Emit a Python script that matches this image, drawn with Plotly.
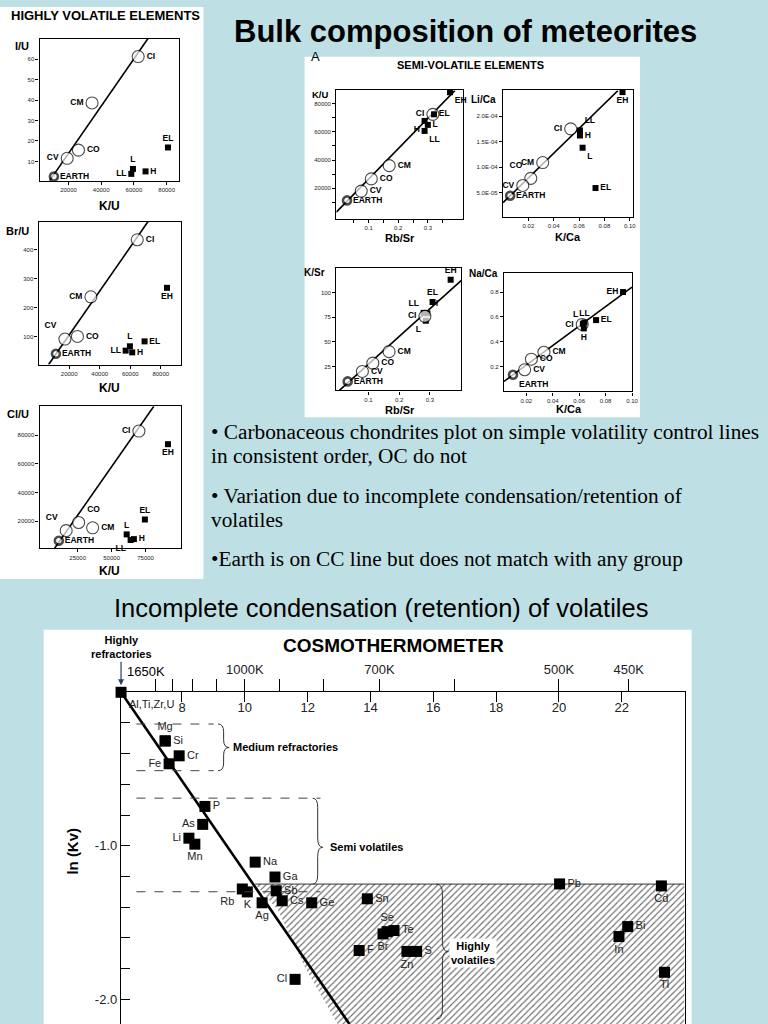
import plotly.graph_objects as go

# ---------------- data ----------------
# I/U vs K/U  (highly volatile elements)
iu_cc = ["CI", "CM", "CO", "CV", "EARTH"]
iu_cc_ku = [62600, 34400, 26100, 19200, 11100]
iu_cc_iu = [61.3, 38.6, 15.5, 11.5, 2.6]
iu_oc = ["L", "LL", "H", "EL"]
iu_oc_ku = [59400, 58400, 67100, 80800]
iu_oc_iu = [6.3, 3.9, 5.1, 16.8]
iu_line_ku = [8500, 68500]
iu_line_iu = [0.6, 70]

# Br/U vs K/U
bru_cc = ["CI", "CM", "CV", "CO", "EARTH"]
bru_cc_ku = [64600, 34200, 17200, 25400, 11300]
bru_cc_bru = [434, 237, 91, 100, 40]
bru_oc = ["EH", "L", "LL", "H", "EL"]
bru_oc_ku = [84100, 59800, 57000, 61300, 69400]
bru_oc_bru = [268, 66, 51, 45, 83]
bru_line_ku = [6500, 71700]
bru_line_bru = [3, 497]

# Cl/U vs K/U
clu_cc = ["CI", "CO", "CV", "CM", "EARTH"]
clu_cc_ku = [70100, 25700, 16500, 36000, 11100]
clu_cc_clu = [83000, 19100, 13400, 15400, 6400]
clu_oc = ["EH", "EL", "L", "LL", "H"]
clu_oc_ku = [91500, 74500, 61100, 64000, 66400]
clu_oc_clu = [73800, 21200, 10800, 6900, 7500]
clu_line_ku = [8000, 81100]
clu_line_clu = [1100, 100300]

# K/U vs Rb/Sr  (semi-volatile elements)
ku_cc = ["CI", "CM", "CO", "CV", "EARTH"]
ku_cc_rbsr = [0.317, 0.1695, 0.109, 0.075, 0.027]
ku_cc_ku = [72500, 36000, 26600, 17900, 11300]
ku_oc = ["EH", "EL", "H", "L", "LL"]
ku_oc_rbsr = [0.375, 0.321, 0.289, 0.300, 0.289]
ku_oc_ku = [88200, 72500, 67800, 65000, 60700]
ku_line_rbsr = [-0.009, 0.392]
ku_line_ku = [3000, 89500]

# Li/Ca vs K/Ca
lica_cc = ["CI", "CM", "CO", "CV", "EARTH"]
lica_cc_kca = [0.0534, 0.0313, 0.0219, 0.0156, 0.0056]
lica_cc_lica = [1.75e-4, 1.09e-4, 7.8e-5, 6.4e-5, 4.4e-5]
lica_oc = ["EH", "LL", "H", "L", "EL"]
lica_oc_kca = [0.0943, 0.0607, 0.0607, 0.0628, 0.073]
lica_oc_lica = [2.47e-4, 1.72e-4, 1.62e-4, 1.38e-4, 5.9e-5]
lica_line_kca = [0.0, 0.0908]
lica_line_lica = [3.04e-5, 2.503e-4]

# K/Sr vs Rb/Sr
ksr_cc = ["CI", "CM", "CO", "CV", "EARTH"]
ksr_cc_rbsr = [0.284, 0.167, 0.114, 0.080, 0.032]
ksr_cc_ksr = [76, 40.1, 28.4, 20, 9.9]
ksr_oc = ["EH", "EL", "H", "LL", "L"]
ksr_oc_rbsr = [0.368, 0.309, 0.292, 0.280, 0.287]
ksr_oc_ksr = [113.1, 90.5, 79, 79.5, 71.5]
ksr_line_rbsr = [0.005, 0.403]
ksr_line_ksr = [0.8, 112.4]

# Na/Ca vs K/Ca
naca_cc = ["CI", "CM", "CO", "CV", "EARTH"]
naca_cc_kca = [0.0623, 0.0333, 0.0238, 0.0187, 0.0099]
naca_cc_naca = [0.539, 0.315, 0.259, 0.174, 0.134]
naca_oc = ["EH", "EL", "LL", "L", "H"]
naca_oc_kca = [0.0932, 0.0728, 0.0640, 0.0628, 0.0635]
naca_oc_naca = [0.80, 0.574, 0.555, 0.545, 0.507]
naca_line_kca = [0.0031, 0.10]
naca_line_naca = [0.08, 0.84]

# Cosmothermometer: 10^4/T (x) vs ln(Kv) (y)
cosmo_el = ["Al,Ti,Zr,U", "Mg", "Si", "Cr", "Fe", "P", "As", "Li", "Mn", "Na",
            "Ga", "Sb", "Rb", "K", "Ag", "Cs", "Ge", "Sn", "Se", "Br",
            "Te", "F", "Zn", "S", "Pb", "Cd", "Bi", "In", "Tl", "Cl"]
cosmo_x = [6.06, 7.46, 7.47, 7.91, 7.59, 8.73, 8.66, 8.22, 8.41, 10.33,
           10.96, 11.00, 9.92, 10.08, 10.55, 11.19, 12.13, 13.90, 14.53, 14.40,
           14.75, 13.64, 15.16, 15.47, 20.02, 23.26, 22.19, 21.91, 23.36, 11.60]
cosmo_y = [0.0, -0.317, -0.317, -0.414, -0.466, -0.744, -0.861, -0.951, -0.990, -1.107,
           -1.204, -1.294, -1.282, -1.301, -1.372, -1.359, -1.372, -1.346, -1.560, -1.575,
           -1.553, -1.683, -1.689, -1.689, -1.249, -1.262, -1.527, -1.592, -1.825, -1.871]
cosmo_line_x = [6.06, 13.33]
cosmo_line_y = [0.0, -2.162]
hatch_x = [10.33, 24.0, 24.0, 12.95, 11.91, 11.06, 10.33]
hatch_y = [-1.25, -1.25, -2.162, -2.162, -1.79, -1.42, -1.25]
temps_k = [1400, 1300, 1200, 1100, 1000, 900, 800, 700, 600, 500, 450]
temp_labels = {1000: "1000K", 700: "700K", 500: "500K", 450: "450K"}

bullets = [
    "• Carbonaceous chondrites plot on simple volatility control lines",
    "in consistent order, OC do not",
    "• Variation due to incomplete condensation/retention of",
    "volatiles",
    "•Earth is on CC line but does not match with any group",
]

# ---------------- helpers ----------------
W, H = 768, 1024
SANS = "Liberation Sans, Arial, sans-serif"
SERIF = "Liberation Serif, Times New Roman, serif"
BG = "#bee0e4"


def fx(x):
    return x / W


def fy(y):
    return 1 - y / H


def refs(n):
    return ("x", "y") if n == 1 else (f"x{n}", f"y{n}")


def names(n):
    return ("xaxis", "yaxis") if n == 1 else (f"xaxis{n}", f"yaxis{n}")


fig = go.Figure()


def add_panel(n, frame, xr, yr, xt, yt, xtt=None, ytt=None):
    xa, ya = refs(n)
    xn, yn = names(n)
    x0, x1, y0, y1 = frame
    common = dict(showline=True, mirror=True, linecolor="black", linewidth=1.4,
                  ticks="outside", ticklen=3, tickwidth=1, tickcolor="black",
                  tickfont=dict(size=6, color="#222", family=SANS),
                  showgrid=False, zeroline=False, tickmode="array", fixedrange=True)
    fig.update_layout({
        xn: dict(common, domain=[fx(x0), fx(x1)], range=xr, anchor=ya,
                 tickvals=xt, ticktext=xtt or [str(v) for v in xt]),
        yn: dict(common, domain=[fy(y1), fy(y0)], range=yr, anchor=xa,
                 tickvals=yt, ticktext=ytt or [str(v) for v in yt]),
    })


def add_points(n, cc, cc_x, cc_y, cc_pos, oc, oc_x, oc_y, oc_pos, lx, ly, squares_on_top=True):
    xa, ya = refs(n)
    lab_font = dict(family=SANS, size=8.5, color="black", weight="bold")
    fig.add_trace(go.Scatter(x=lx, y=ly, xaxis=xa, yaxis=ya, mode="lines",
                             line=dict(color="black", width=1.6), hoverinfo="skip"))
    circles = go.Scatter(
        x=cc_x, y=cc_y, xaxis=xa, yaxis=ya, mode="markers+text", text=cc,
        textposition=cc_pos, textfont=lab_font, cliponaxis=False,
        marker=dict(symbol="circle", color="white",
                    size=[8 if c == "EARTH" else 12 for c in cc],
                    line=dict(color="black", width=[2.6 if c == "EARTH" else 1.1 for c in cc])))
    squares = go.Scatter(
        x=oc_x, y=oc_y, xaxis=xa, yaxis=ya, mode="markers+text", text=oc,
        textposition=oc_pos, textfont=lab_font, cliponaxis=False,
        marker=dict(symbol="square", color="black", size=6))
    for tr in ([circles, squares] if squares_on_top else [squares, circles]):
        fig.add_trace(tr)


# ---------------- highly volatile panels ----------------
add_panel(1, (40, 180, 32, 175), [2400, 87300], [0.5, 70],
          [20000, 40000, 60000, 80000], [10, 20, 30, 40, 50, 60])
add_points(1, iu_cc, iu_cc_ku, iu_cc_iu,
           ["middle right", "middle left", "middle right", "middle left", "middle right"],
           iu_oc, iu_oc_ku, iu_oc_iu, ["top center", "middle left", "middle right", "top center"],
           iu_line_ku, iu_line_iu)

add_panel(2, (39, 182, 216, 360), [0, 93000], [3, 497],
          [20000, 40000, 60000, 80000], [100, 200, 300, 400])
add_points(2, bru_cc, bru_cc_ku, bru_cc_bru,
           ["middle right", "middle left", "top left", "middle right", "middle right"],
           bru_oc, bru_oc_ku, bru_oc_bru,
           ["bottom center", "top center", "middle left", "middle right", "middle right"],
           bru_line_ku, bru_line_bru)

add_panel(3, (40, 182, 402, 545), [-3000, 100800], [1100, 100300],
          [25000, 50000, 75000], [20000, 40000, 60000, 80000])
add_points(3, clu_cc, clu_cc_ku, clu_cc_clu,
           ["middle left", "top right", "top left", "middle right", "middle right"],
           clu_oc, clu_oc_ku, clu_oc_clu,
           ["bottom center", "top center", "top center", "bottom left", "middle right"],
           clu_line_ku, clu_line_clu)

# ---------------- semi-volatile panels ----------------
add_panel(4, (339, 467, 84, 213), [-0.009, 0.42], [-1600, 89500],
          [0.05, 0.1, 0.15, 0.2, 0.25, 0.3, 0.35],
          [10000, 20000, 30000, 40000, 50000, 60000, 70000, 80000],
          ["", "0.1", "", "0.2", "", "0.3", ""],
          ["", "20000", "", "40000", "", "60000", "", "80000"])
add_points(4, ku_cc, ku_cc_rbsr, ku_cc_ku,
           ["middle left", "middle right", "middle right", "middle right", "middle right"],
           ku_oc, ku_oc_rbsr, ku_oc_ku,
           ["bottom right", "middle right", "bottom left", "middle right", "bottom right"],
           ku_line_rbsr, ku_line_ku)

add_panel(5, (507, 638, 84, 211), [0, 0.1026], [3.1e-6, 2.503e-4],
          [0.02, 0.04, 0.06, 0.08, 0.10], [5e-5, 1e-4, 1.5e-4, 2e-4],
          ["0.02", "0.04", "0.06", "0.08", "0.10"],
          ["5.0E-05", "1.0E-04", "1.5E-04", "2.0E-04"])
add_points(5, lica_cc, lica_cc_kca, lica_cc_lica,
           ["middle left", "middle left", "top left", "middle left", "middle right"],
           lica_oc, lica_oc_kca, lica_oc_lica,
           ["bottom center", "top right", "middle right", "bottom right", "middle right"],
           lica_line_kca, lica_line_lica)

add_panel(6, (339, 465, 263, 386), [-0.005, 0.403], [0.8, 124.8],
          [0.1, 0.2, 0.3], [25, 50, 75, 100])
add_points(6, ksr_cc, ksr_cc_rbsr, ksr_cc_ksr,
           ["middle left", "middle right", "middle right", "middle right", "middle right"],
           ksr_oc, ksr_oc_rbsr, ksr_oc_ksr,
           ["top center", "top center", "top right", "top left", "bottom left"],
           ksr_line_rbsr, ksr_line_ksr, squares_on_top=False)

add_panel(7, (508, 637, 268, 387), [0.0031, 0.10], [0, 0.952],
          [0.02, 0.04, 0.06, 0.08, 0.10], [0.2, 0.4, 0.6, 0.8],
          ["0.02", "0.04", "0.06", "0.08", "0.10"])
add_points(7, naca_cc, naca_cc_kca, naca_cc_naca,
           ["middle left", "middle right", "middle right", "middle right", "bottom right"],
           naca_oc, naca_oc_kca, naca_oc_naca,
           ["middle left", "middle right", "top center", "top left", "bottom center"],
           naca_line_kca, naca_line_naca)

# ---------------- cosmothermometer ----------------
cosmo_pos = ["bottom right", "top center", "middle right", "middle right", "middle left",
             "middle right", "middle left", "middle left", "bottom center", "middle right",
             "middle right", "middle right", "bottom left", "bottom center", "bottom center",
             "middle right", "middle right", "middle right", "top center", "bottom center",
             "middle right", "middle right", "bottom center", "middle right", "middle right",
             "bottom center", "middle right", "bottom center", "bottom center", "middle left"]

fig.add_trace(go.Scatter(
    x=hatch_x, y=hatch_y, xaxis="x8", yaxis="y8", mode="lines", fill="toself",
    line=dict(width=0), fillcolor="white",
    fillpattern=dict(shape="/", size=4.5, solidity=0.25, fgcolor="#666", bgcolor="white",
                     fillmode="replace"),
    hoverinfo="skip"))
fig.add_trace(go.Scatter(x=hatch_x[:2], y=hatch_y[:2], xaxis="x8", yaxis="y8", mode="lines",
                         line=dict(color="#333", width=1), hoverinfo="skip"))
fig.add_trace(go.Scatter(x=cosmo_line_x, y=cosmo_line_y, xaxis="x8", yaxis="y8", mode="lines",
                         line=dict(color="black", width=2.6), hoverinfo="skip"))
fig.add_trace(go.Scatter(
    x=cosmo_x, y=cosmo_y, xaxis="x8", yaxis="y8", mode="markers+text", text=cosmo_el,
    textposition=cosmo_pos, textfont=dict(family=SANS, size=11, color="#222"),
    marker=dict(symbol="square", color="black", size=11), cliponaxis=False))
# invisible trace so the temperature axis is drawn
fig.add_trace(go.Scatter(x=[10], y=[-1], xaxis="x9", yaxis="y8", mode="markers",
                         marker=dict(opacity=0), hoverinfo="skip"))

cosmo_range = [6.06, 24.0]
fig.update_layout(
    xaxis8=dict(domain=[fx(122), fx(690)], range=cosmo_range, anchor="y8", side="top",
                showline=True, linecolor="black", linewidth=1.4, ticks="inside", ticklen=10,
                tickcolor="black", ticklabelposition="inside", tickmode="array",
                tickvals=[8, 10, 12, 14, 16, 18, 20, 22],
                tickfont=dict(family=SANS, size=13, color="#222"),
                showgrid=False, zeroline=False, fixedrange=True),
    xaxis9=dict(range=cosmo_range, overlaying="x8", anchor="y8", side="top",
                showline=False, ticks="outside", ticklen=12, tickcolor="black",
                tickmode="array", tickvals=[1e4 / t for t in temps_k],
                ticktext=[temp_labels.get(t, "") for t in temps_k],
                tickfont=dict(family=SANS, size=13, color="#222"),
                showgrid=False, zeroline=False, fixedrange=True),
    yaxis8=dict(domain=[0, fy(690)], range=[-2.162, 0], anchor="x8",
                showline=True, mirror=True, linecolor="black", linewidth=1.4,
                ticks="inside", ticklen=9, tickcolor="black", tickmode="array",
                tickvals=[-0.2 * i for i in range(11)],
                ticktext=["0.0", "", "", "", "", "-1.0", "", "", "", "", "-2.0"],
                tickfont=dict(family=SANS, size=13, color="#222"),
                showgrid=False, zeroline=False, fixedrange=True),
)


def brace(x0, ytop, ybot, ytip, w, d):
    xm = x0 + w * 0.5
    xt = x0 + w
    return (f"M{x0},{ytop} Q{xm},{ytop} {xm},{ytop - d} L{xm},{ytip + d} "
            f"Q{xm},{ytip} {xt},{ytip} Q{xm},{ytip} {xm},{ytip - d} "
            f"L{xm},{ybot + d} Q{xm},{ybot} {x0},{ybot}")


shapes = [
    # slide panels
    dict(type="rect", xref="paper", yref="paper", x0=0, x1=fx(205), y0=fy(576), y1=1,
         fillcolor="white", line=dict(width=0), layer="below"),
    dict(type="rect", xref="paper", yref="paper", x0=fx(307), x1=fx(645), y0=fy(413), y1=fy(50),
         fillcolor="white", line=dict(width=0), layer="below"),
    dict(type="rect", xref="paper", yref="paper", x0=fx(44), x1=fx(697), y0=0, y1=fy(627),
         fillcolor="white", line=dict(width=0), layer="below"),
]
for yv, xe in [(-0.207, 9.01), (-0.511, 9.01), (-0.69, 12.41), (-1.30, 12.41)]:
    shapes.append(dict(type="line", xref="x8", yref="y8", x0=6.55, x1=xe, y0=yv, y1=yv,
                       line=dict(color="#444", width=1, dash="dash")))
for args in [(9.15, -0.207, -0.511, -0.36, 0.35, 0.05),
             (12.16, -0.69, -1.25, -1.01, 0.32, 0.06),
             (16.10, -1.25, -2.13, -1.69, 0.38, 0.06)]:
    shapes.append(dict(type="path", xref="x8", yref="y8", path=brace(*args),
                       line=dict(color="#333", width=1)))

ann = []


def text(x, y, s, size, bold=False, family=SANS, xanchor="center", angle=0, **kw):
    ann.append(dict(x=fx(x), y=fy(y), xref="paper", yref="paper", text=s, showarrow=False,
                    xanchor=xanchor, yanchor="middle", textangle=angle,
                    font=dict(family=family, size=size, color="black",
                              weight="bold" if bold else "normal"), **kw))


text(469, 25, "Bulk composition of meteorites", 31, bold=True)
text(384, 605, "Incomplete condensation (retention) of volatiles", 25.5)
text(106, 9, "HIGHLY VOLATILE ELEMENTS", 13, bold=True)
text(474, 58, "SEMI-VOLATILE ELEMENTS", 11, bold=True)
text(318, 50, "A", 13)

for (x, y, s, size) in [(22, 39, "I/U", 11), (110, 200, "K/U", 12),
                        (18, 226, "Br/U", 11), (110, 384, "K/U", 12),
                        (18, 410, "Cl/U", 11), (110, 568, "K/U", 12),
                        (323, 88, "K/U", 9.5), (403, 233, "Rb/Sr", 11),
                        (487, 93, "Li/Ca", 10), (572, 232, "K/Ca", 11),
                        (317, 267, "K/Sr", 10), (403, 406, "Rb/Sr", 11),
                        (487, 268, "Na/Ca", 10), (573, 405, "K/Ca", 11)]:
    text(x, y, s, size, bold=True)

for s, y in zip(bullets, [428, 452, 492, 517, 556]):
    text(211, y, s, 21.3, family=SERIF, xanchor="left")

text(397, 643, "COSMOTHERMOMETER", 19, bold=True)
text(73, 850, "ln (Kv)", 15, bold=True, angle=-90)
text(147, 669, "1650K", 13)

ann.append(dict(x=6.06, y=0, xref="x8", yref="y8", text="<b>Highly<br>refractories</b>",
                showarrow=True, ax=0, ay=-45, arrowhead=2, arrowsize=1, arrowwidth=1.2,
                standoff=7, font=dict(family=SANS, size=11, color="black")))
for x, y, s, bg in [(9.55, -0.356, "Medium refractories", None),
                    (12.64, -1.01, "Semi volatiles", None),
                    (17.27, -1.70, "Highly<br>volatiles", "white")]:
    ann.append(dict(x=x, y=y, xref="x8", yref="y8", text=s, showarrow=False,
                    xanchor="left" if bg is None else "center",
                    bgcolor=bg or "rgba(0,0,0,0)",
                    font=dict(family=SANS, size=11, color="black", weight="bold")))

fig.update_layout(
    width=W, height=H, margin=dict(l=0, r=0, t=0, b=0),
    paper_bgcolor=BG, plot_bgcolor="rgba(0,0,0,0)",
    showlegend=False, shapes=shapes, annotations=ann,
)

# the page body has a default 8px margin; drop it so the figure fills the window
fig.write_html("out.html", config={"displayModeBar": False},
               post_script="document.body.style.margin = '0px';")
